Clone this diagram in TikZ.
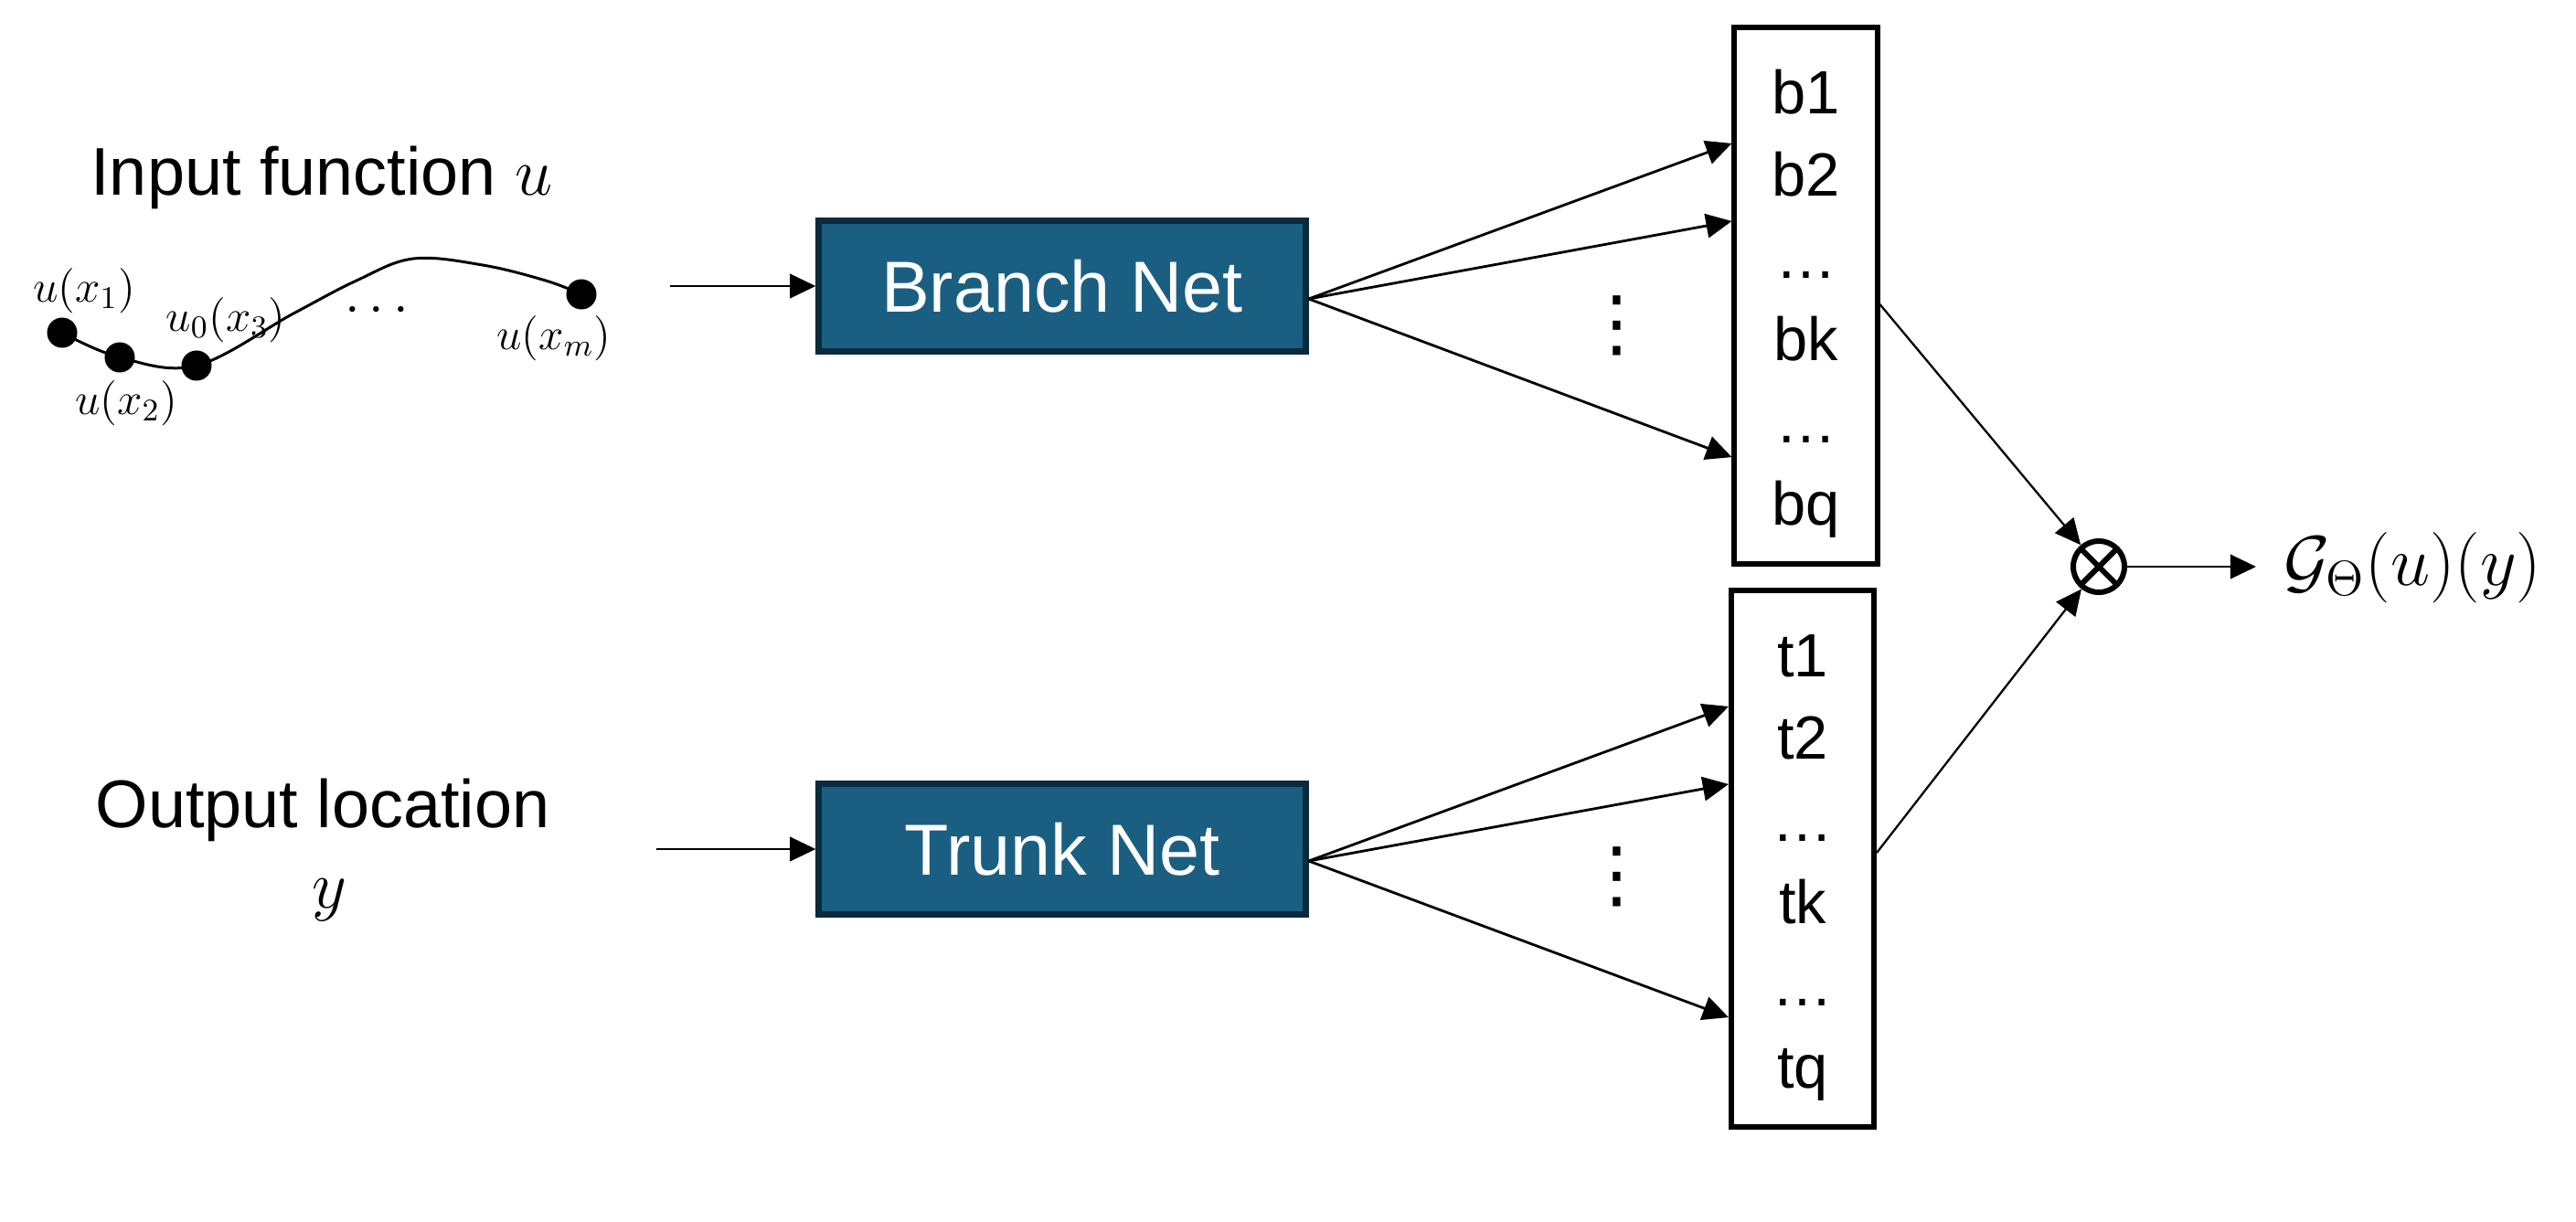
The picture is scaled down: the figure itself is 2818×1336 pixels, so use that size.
\RequirePackage{fix-cm}
\documentclass[tikz,border=0pt]{standalone}
\usepackage{fontspec}
\setmainfont{Liberation Sans}
\newfontfamily\dejavu{DejaVu Sans}
\usetikzlibrary{arrows.meta}
\definecolor{netfill}{HTML}{1A5F82}
\definecolor{netedge}{HTML}{0B2A3D}
\begin{document}
\begin{tikzpicture}[x=0.01cm,y=-0.01cm,
  netbox/.style={draw=netedge, fill=netfill, line width=2pt, minimum width=5.32cm, minimum height=1.43cm, text=white, font=\fontsize{22.5}{27}\selectfont, inner sep=0pt},
  vecbox/.style={draw=black, line width=1.7pt, minimum width=1.56cm, minimum height=5.87cm, align=center, font=\fontsize{19}{25.6}\selectfont, inner sep=0pt},
  arr/.style={line width=0.8pt, -{Triangle[length=8pt,width=7.5pt]}},
  thinarr/.style={line width=0.65pt, -{Triangle[length=8pt,width=7.5pt]}},
  lbl/.style={font=\fontsize{21}{25}\selectfont, anchor=base, inner sep=0pt},
  pt/.style={circle, fill=black, minimum size=0.33cm, inner sep=0pt},
  ulbl/.style={font=\fontsize{14}{17}\selectfont, inner sep=0pt},
  vdotsn/.style={font=\dejavu\fontsize{23}{27}\selectfont, inner sep=0pt}
]
\useasboundingbox (0,0) rectangle (2818,1336);

% input function
\node[lbl] (inlbl) at (352,213) {Input function $u$};
\coordinate (c1) at (68,364);
\coordinate (c2) at (131,391);
\coordinate (c3) at (215,400);
\coordinate (cm) at (636,322);
\draw[line width=0.85pt] plot[smooth, tension=0.6] coordinates {(c1) (c2) (c3) (321,343) (390,307) (452,283) (528,290) (597,307) (cm)};
\node[pt] (p1) at (c1) {};
\node[pt] (p2) at (c2) {};
\node[pt] (p3) at (c3) {};
\node[pt] (pm) at (cm) {};
\node[ulbl] (l1) at (92,318) {$u(x_1)$};
\node[ulbl] (l2) at (138,441) {$u(x_2)$};
\node[ulbl] (l3) at (247,350) {$u_0(x_3)$};
\node[font=\fontsize{17}{20}\selectfont, inner sep=0pt] (cdt) at (412,340) {$\cdots$};
\node[ulbl] (lm) at (606,370) {$u(x_m)$};

% output location
\node[lbl] (outlbl) at (353,905) {Output location};
\node[lbl] (ylbl) at (360,993) {$y$};

% nets
\node[netbox] (branch) at (1162,313) {Branch Net};
\node[netbox] (trunk) at (1162,929) {Trunk Net};
\coordinate (inA) at (733,313);
\coordinate (inB) at (718,929);
\draw[arr] (inA) -- (branch.west);
\draw[arr] (inB) -- (trunk.west);

% vectors
\node[vecbox] (bbox) at (1975.5,323.5) {\rule{0pt}{18.5pt}b1\\b2\\…\\bk\\…\\bq};
\node[vecbox] (tbox) at (1972,939.5) {\rule{0pt}{18.5pt}t1\\t2\\…\\tk\\…\\tq};

\draw[arr] ([yshift=-0.14cm]branch.east) -- ([yshift=1.665cm]bbox.west);
\draw[arr] ([yshift=-0.14cm]branch.east) -- ([yshift=0.815cm]bbox.west);
\draw[arr] ([yshift=-0.14cm]branch.east) -- ([yshift=-1.765cm]bbox.west);
\draw[arr] ([yshift=-0.13cm]trunk.east) -- ([yshift=1.665cm]tbox.west);
\draw[arr] ([yshift=-0.13cm]trunk.east) -- ([yshift=0.815cm]tbox.west);
\draw[arr] ([yshift=-0.13cm]trunk.east) -- ([yshift=-1.735cm]tbox.west);

\node[vdotsn] (vd1) at (1769,356) {⋮};
\node[vdotsn] (vd2) at (1769,959) {⋮};

% product
\node[circle, draw, line width=1.7pt, minimum size=0.56cm, inner sep=0pt] (mul) at (2296,620) {};
\draw[line width=1.7pt] (mul.center) ++(45:0.28cm) -- ++(225:0.56cm);
\draw[line width=1.7pt] (mul.center) ++(135:0.28cm) -- ++(315:0.56cm);
\draw[thinarr] ([yshift=-0.095cm]bbox.east) -- (mul);
\draw[thinarr] ([yshift=0.065cm]tbox.east) -- (mul);

\node[font=\fontsize{22}{26}\selectfont, inner sep=0pt, anchor=base west] (glbl) at (2498,640) {$\mathcal{G}_{\Theta}(u)(y)$};
\coordinate (gout) at (2468,620);
\draw[arr] (mul) -- (gout);
\end{tikzpicture}
\end{document}
